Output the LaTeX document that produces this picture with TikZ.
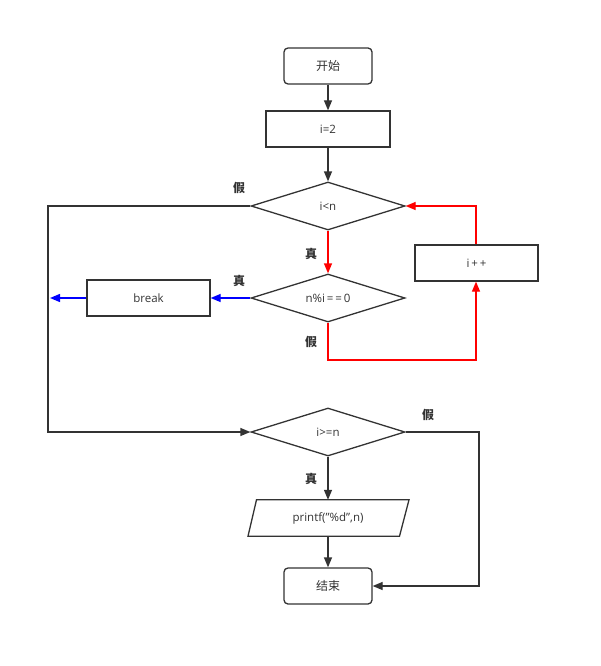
\documentclass[tikz,border=0pt]{standalone}
\usepackage{fontspec}
\setmainfont{Open Sans}
\newfontfamily\cjk{Noto Sans CJK SC}
\usetikzlibrary{arrows.meta,shapes.geometric}
\begin{document}
\begin{tikzpicture}[x=1pt,y=-1pt,
  every node/.style={font=\fontsize{11.5}{14}\selectfont,text=black!80},
  box/.style={draw=black!80,line width=1.3pt,minimum width=124pt,minimum height=36pt,inner sep=0pt},
  rbox/.style={box,rounded corners=4pt,minimum width=88pt,font=\fontsize{12}{14}\selectfont\cjk},
  dia/.style={draw=black!80,line width=1.3pt,diamond,aspect=3.2,minimum width=154pt,minimum height=48pt,inner sep=0pt},
  con/.style={line width=1.3pt,draw=black!80,-{Triangle[length=10pt,width=8pt]}},
  redc/.style={con,draw=red,-{Triangle[length=10pt,width=8pt,fill=red]}},
  bluec/.style={con,draw=blue,-{Triangle[length=10pt,width=8pt,fill=blue]}},
  lab/.style={font=\fontsize{12}{14}\selectfont\cjk\bfseries}]
\useasboundingbox (0,0) rectangle (600,666);
\node[rbox] (s) at (328,66) {开始};
\node[box] (i2) at (328,129) {i=2};
\node[dia] (d1) at (328,206) {i<n};
\node[dia] (d2) at (328,298) {n\%i\,=\,=\,0};
\node[box,minimum width=123pt] (br) at (148.5,298) {break};
\node[box,minimum width=123pt] (inc) at (476.5,263) {i\,+\,+};
\node[dia] (d3) at (328,432) {i>=n};
\node[minimum width=152pt,minimum height=36pt,inner sep=0pt] (p) at (328,518) {printf(\char34\%d\char34,n)};
\draw[line width=1.3pt,draw=black!80] ([xshift=-71.5pt]p.north) -- ([xshift=81pt]p.north) -- ([xshift=71.5pt]p.south) -- ([xshift=-80pt]p.south) -- cycle;
\node[rbox] (e) at (328,586) {结束};
\coordinate (l1) at (48,206);
\coordinate (l2) at (48,432);
\coordinate (bl) at (50,298);
\coordinate (r1) at (328,360);
\coordinate (r2) at (476,360);
\coordinate (u1) at (476,206);
\coordinate (q1) at (479,432);
\coordinate (q2) at (479,586);
\draw[con] (s) -- (i2);
\draw[con] (i2) -- (d1);
\draw[con] (d1.west) -- (l1) -- (l2) -- (d3.west);
\draw[redc] (d1.south) -- (d2.north);
\draw[bluec] (d2.west) -- (br.east);
\draw[bluec] (br.west) -- (bl);
\draw[redc] (d2.south) -- (r1) -- (r2) -- (inc.south -| r2);
\draw[redc] (inc.north -| u1) -- (u1) -- (d1.east);
\draw[con] (d3.east) -- (q1) -- (q2) -- (e.east);
\draw[con] (d3.south) -- (p.north);
\draw[con] (p.south) -- (e.north);
\node[lab] (t1) at (239,188) {假};
\node[lab] (t2) at (311,254) {真};
\node[lab] (t3) at (239,281) {真};
\node[lab] (t4) at (311,342) {假};
\node[lab] (t5) at (428,415) {假};
\node[lab] (t6) at (311,479) {真};
\end{tikzpicture}
\end{document}
